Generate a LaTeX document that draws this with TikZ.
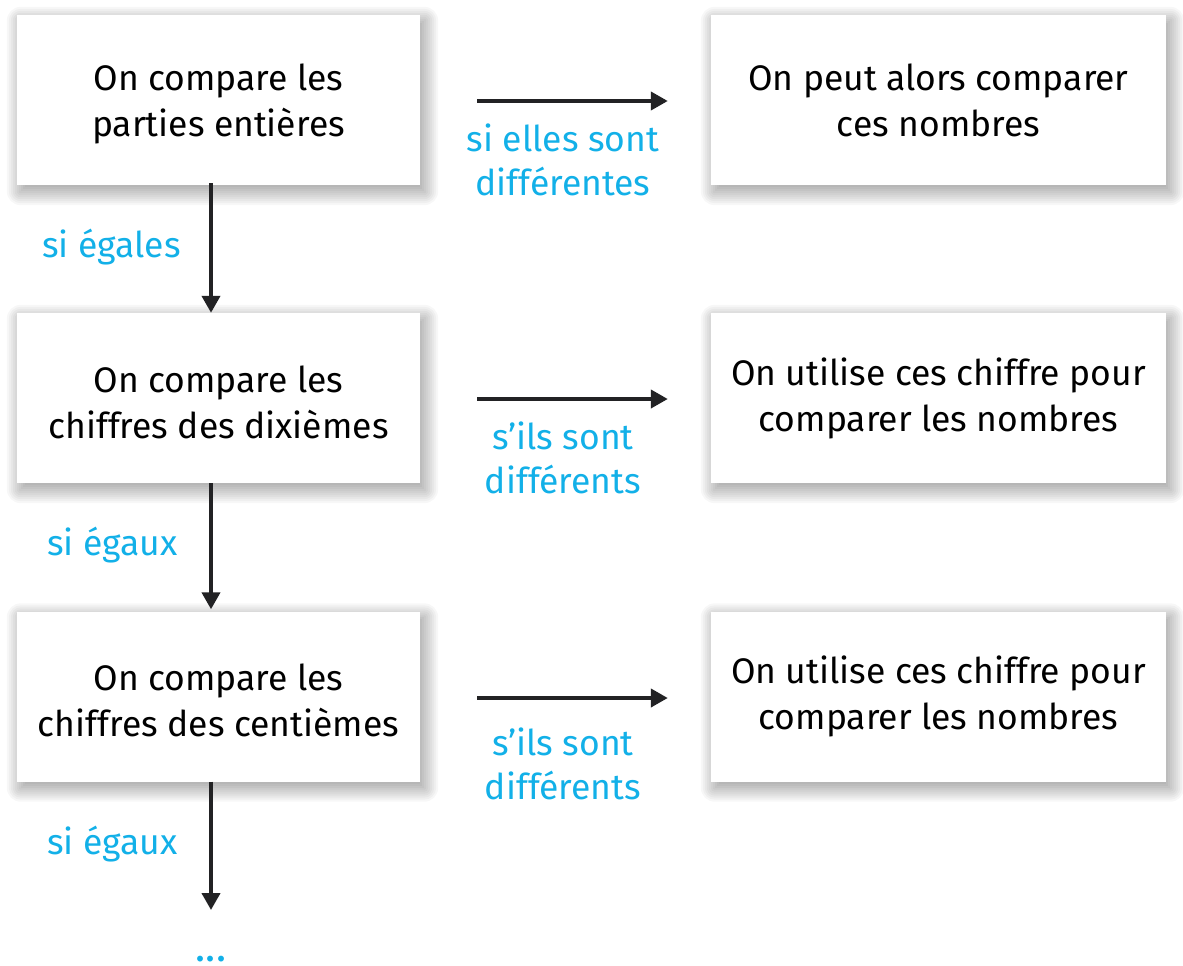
\documentclass[tikz,border=0pt]{standalone}
\usepackage{fontspec}
\setmainfont{Fira Sans}
\usetikzlibrary{arrows.meta,backgrounds}
\definecolor{lblblue}{RGB}{18,176,232}
\definecolor{arrowdark}{RGB}{34,34,36}
\newcommand{\mystrut}{\rule{0pt}{35pt}}
\begin{document}
\begin{tikzpicture}[x=1pt,y=-1pt,
  box/.style={fill=white, minimum width=403pt, minimum height=170pt, inner sep=0pt,
    align=center, font=\fontsize{35.5}{46}\selectfont},
  rbox/.style={box, minimum width=455pt},
  lbl/.style={text=lblblue, align=center, font=\fontsize{35.5}{44}\selectfont, inner sep=0pt},
  arr/.style={draw=arrowdark, line width=4pt, -{Triangle[length=17pt,width=18pt]}},
  shadowlayer/.style={fill=black, fill opacity=0.032}
]
\useasboundingbox (0,0) rectangle (1183,966);

\node[box] (b1) at (218.5,100) {\mystrut On compare les\\parties entières};
\node[box] (b2) at (218.5,398) {\mystrut On compare les\\chiffres des dixièmes};
\node[box] (b3) at (218.5,696.5) {\mystrut On compare les\\chiffres des centièmes};

\node[rbox] (r1) at (938.5,100) {On peut alors comparer\\ces nombres};
\node[rbox] (r2) at (938.5,398) {On utilise ces chiffre pour\\comparer les nombres};
\node[rbox] (r3) at (938.5,696.5) {On utilise ces chiffre pour\\comparer les nombres};

\begin{scope}[on background layer]
  \fill[white] (0,0) rectangle (1183,966);
  \foreach \n in {b1,b2,b3,r1,r2,r3}{
    \foreach \e in {-8,-6,...,14}{
      \fill[shadowlayer, rounded corners={max(\e,0)*1pt}]
        ([xshift={(4-\e)*1pt}, yshift={(\e-6)*1pt}]\n.north west) rectangle
        ([xshift={(4+\e)*1pt}, yshift={(-\e-6)*1pt}]\n.south east);
    }
  }
\end{scope}

\draw[arr] ([xshift=57pt,yshift=-1pt]b1.east) -- ([xshift=-43pt,yshift=-1pt]r1.west);
\draw[arr] ([xshift=57pt,yshift=-1pt]b2.east) -- ([xshift=-43pt,yshift=-1pt]r2.west);
\draw[arr] ([xshift=57pt,yshift=-1.5pt]b3.east) -- ([xshift=-43pt,yshift=-1.5pt]r3.west);

\node[lbl] (l1) at (563,160) {si elles sont\\différentes};
\node[lbl] (l2) at (563,458) {s’ils sont\\différents};
\node[lbl] (l3) at (563,764) {s’ils sont\\différents};

\coordinate (end) at (211,910);
\node[text=lblblue, font=\fontsize{42}{42}\selectfont, inner sep=0pt, anchor=base] (dots) at (211,961) {...};

\draw[arr] ([xshift=-7.5pt,yshift=2pt]b1.south) -- ([xshift=-7.5pt]b2.north);
\draw[arr] ([xshift=-7.5pt]b2.south) -- ([xshift=-7.5pt,yshift=2pt]b3.north);
\draw[arr] ([xshift=-7.5pt]b3.south) -- (end);

\node[lbl] (e1) at (111.5,247) {si égales};
\node[lbl] (e2) at (112.5,545) {si égaux};
\node[lbl] (e3) at (112.5,844) {si égaux};
\end{tikzpicture}
\end{document}
